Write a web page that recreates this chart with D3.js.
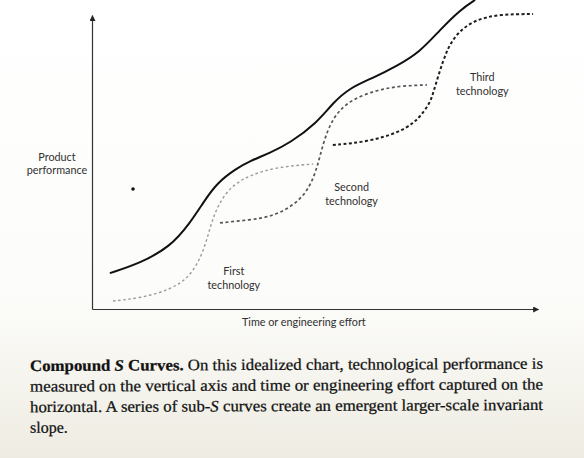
<!DOCTYPE html>
<head>
<meta charset="utf-8">
<style>
  body { margin: 0; background: #fff; }
  svg { display: block; }
  .lbl { font-family: Lato, 'Open Sans', sans-serif; font-size: 10.8px; fill: #2f2f2f; text-anchor: middle; }
  .cap { font-family: 'Liberation Serif', 'Times New Roman', serif; font-size: 16px; fill: #111; stroke: #111; stroke-width: 0.25px; }
  .axis path { stroke: #333; stroke-width: 1.2; }
</style>
</head>
<body>
<script src="https://d3js.org/d3.v7.min.js"></script>
<script>

// DATA (effort 0-100 along x, performance 0-100 along y)
var envelopeX = [4.0, 10.8, 17.5, 22.0, 24.9, 28.0, 32.5, 35.4, 39.9, 44.4, 50.4, 54.0, 57.8, 63.0, 68.4, 73.5, 78.0, 82.5, 85.9];
var envelopeY = [12.2, 15.6, 21.1, 29.3, 36.1, 42.9, 47.9, 50.3, 53.1, 56.5, 63.3, 70.1, 75.2, 78.6, 82.7, 87.4, 94.9, 101.7, 105.1];

var firstX = [4.7, 10.8, 17.5, 22.0, 24.9, 26.5, 28.0, 30.9, 35.4, 41.5, 49.6];
var firstY = [2.7, 3.7, 6.5, 10.9, 19.0, 27.9, 34.7, 41.5, 45.6, 48.3, 49.3];

var secondX = [28.7, 35.4, 39.9, 44.4, 48.2, 50.4, 51.8, 54.0, 57.8, 63.9, 69.1, 75.1];
var secondY = [29.3, 30.3, 31.3, 34.4, 39.5, 47.3, 56.5, 65.3, 71.1, 74.5, 75.9, 76.2];

var thirdX = [54.0, 61.7, 69.1, 72.0, 73.5, 75.8, 76.5, 78.7, 80.9, 85.4, 91.5, 98.9];
var thirdY = [55.8, 56.8, 60.2, 63.3, 65.3, 70.1, 73.5, 84.7, 92.5, 98.3, 100.3, 100.3];

var techLabels = ['First', 'Second', 'Third'];
var techAt = [[31.8, 11.5], [58.2, 40.0], [87.5, 77.5]];   // label centres in data units
var dotAt = [9.2, 40.8];

var captionLines = [
  [{t: 'Compound ', b: 1}, {t: 'S', b: 1, i: 1}, {t: ' Curves.', b: 1}, {t: ' On this idealized chart, technological performance is'}],
  [{t: 'measured on the vertical axis and time or engineering effort captured on the'}],
  [{t: 'horizontal. A series of sub-'}, {t: 'S', i: 1}, {t: ' curves create an emergent larger-scale invariant'}],
  [{t: 'slope.'}]
];

// DIMENSIONS
var width = 584, height = 458;
var margin = {top: 15, right: 46, bottom: 149, left: 92};

var svg = d3.select('body').append('svg')
  .attr('width', width)
  .attr('height', height);

var defs = svg.append('defs');
var grad = defs.append('linearGradient').attr('id', 'paper')
  .attr('x1', 0).attr('y1', 0).attr('x2', 0).attr('y2', 1);
grad.append('stop').attr('offset', '0%').attr('stop-color', '#ffffff');
grad.append('stop').attr('offset', '65%').attr('stop-color', '#fcfcfa');
grad.append('stop').attr('offset', '100%').attr('stop-color', '#eeece2');

defs.append('marker').attr('id', 'arrow')
  .attr('viewBox', '0 0 10 10').attr('refX', 9).attr('refY', 5)
  .attr('markerWidth', 7).attr('markerHeight', 6)
  .attr('markerUnits', 'userSpaceOnUse')
  .attr('orient', 'auto')
  .append('path').attr('d', 'M0,0L10,5L0,10Z').attr('fill', '#222');

svg.append('rect').attr('width', width).attr('height', height).attr('fill', 'url(#paper)');

// SCALES
var x = d3.scaleLinear([0, 100], [margin.left, width - margin.right]);
var y = d3.scaleLinear([0, 100], [height - margin.bottom, margin.top]);

// AXES
svg.append('g').attr('class', 'axis')
  .attr('transform', `translate(0,${height - margin.bottom})`)
  .call(d3.axisBottom(x).ticks(0).tickSizeOuter(0))
  .select('.domain').attr('marker-end', 'url(#arrow)');

svg.append('g').attr('class', 'axis')
  .attr('transform', `translate(${margin.left},0)`)
  .call(d3.axisLeft(y).ticks(0).tickSizeOuter(0))
  .select('.domain').attr('marker-end', 'url(#arrow)');

// CURVES
var line = d3.line().curve(d3.curveBasis)
  .x(d => x(d[0])).y(d => y(d[1]));

function zip(a, b) { return a.map((v, i) => [v, b[i]]); }

var plot = svg.append('g');
plot.append('path').datum(zip(firstX, firstY)).attr('d', line)
  .attr('fill', 'none').attr('stroke', '#9a9a9a').attr('stroke-width', 1.4)
  .attr('stroke-dasharray', '2.6,2.6');
plot.append('path').datum(zip(secondX, secondY)).attr('d', line)
  .attr('fill', 'none').attr('stroke', '#555').attr('stroke-width', 1.7)
  .attr('stroke-dasharray', '3,2.6');
plot.append('path').datum(zip(thirdX, thirdY)).attr('d', line)
  .attr('fill', 'none').attr('stroke', '#1e1e1e').attr('stroke-width', 2)
  .attr('stroke-dasharray', '3,2.4');
plot.append('path').datum(zip(envelopeX, envelopeY)).attr('d', line)
  .attr('fill', 'none').attr('stroke', '#111').attr('stroke-width', 2);

plot.append('circle').attr('cx', x(dotAt[0])).attr('cy', y(dotAt[1])).attr('r', 1.8).attr('fill', '#111');

// LABELS
techLabels.forEach(function(name, i) {
  var t = svg.append('text').attr('class', 'lbl')
    .attr('x', x(techAt[i][0])).attr('y', y(techAt[i][1]));
  t.append('tspan').attr('x', x(techAt[i][0])).attr('dy', 0).text(name);
  t.append('tspan').attr('x', x(techAt[i][0])).attr('dy', 14).text('technology');
});

var yl = svg.append('text').attr('class', 'lbl').attr('x', 57).attr('y', 161);
yl.append('tspan').attr('x', 57).text('Product');
yl.append('tspan').attr('x', 57).attr('dy', 12.5).text('performance');

svg.append('text').attr('class', 'lbl')
  .attr('x', x(47.5)).attr('y', 326)
  .text('Time or engineering effort');

// CAPTION
var capTop = 371, capGap = 20.6;
captionLines.forEach(function(parts, i) {
  var t = svg.append('text').attr('class', 'cap')
    .attr('x', 30).attr('y', capTop + i * capGap)
    .attr('transform', `rotate(-0.25, 30, ${capTop + i * capGap})`);
  parts.forEach(function(p) {
    t.append('tspan')
      .attr('font-weight', p.b ? 'bold' : null)
      .attr('font-style', p.i ? 'italic' : null)
      .text(p.t);
  });
  if (i < captionLines.length - 1) {
    t.attr('textLength', 513).attr('lengthAdjust', 'spacingAndGlyphs');
  }
});

</script>
</body>
